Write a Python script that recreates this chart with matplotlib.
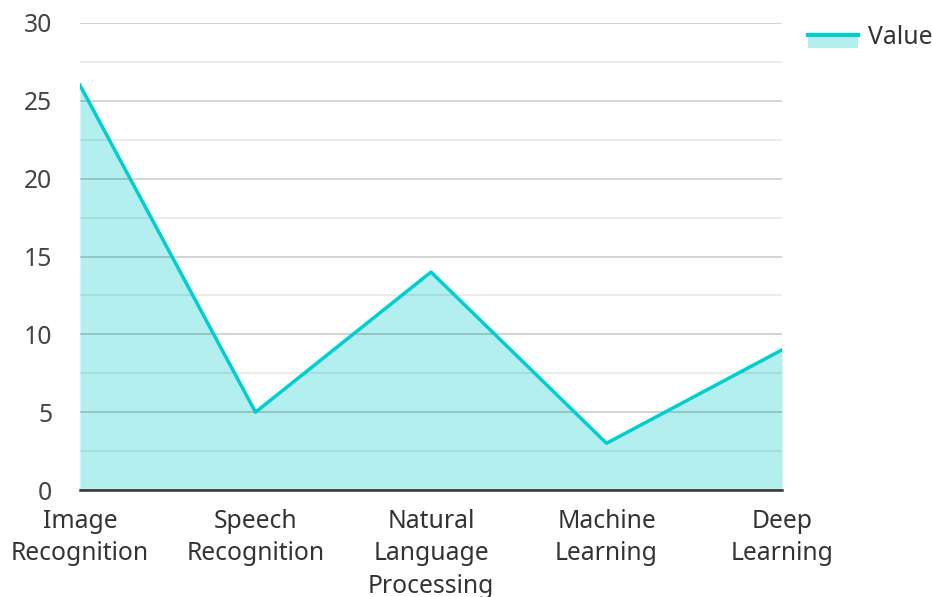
import matplotlib
matplotlib.use('Agg')
import matplotlib.pyplot as plt
from matplotlib.patches import Rectangle
from matplotlib.lines import Line2D
from matplotlib.legend_handler import HandlerBase
from matplotlib.ticker import MultipleLocator

plt.rcParams['font.family'] = ['Noto Sans', 'DejaVu Sans']

categories = ['Image\nRecognition', 'Speech\nRecognition', 'Natural\nLanguage\nProcessing',
              'Machine\nLearning', 'Deep\nLearning']
values = [26, 5, 14, 3, 9]

line_color = '#00CED1'
fill_color = '#B2EFEE'


class AreaHandler(HandlerBase):
    # line on top of a filled block, like the area legend swatch
    def create_artists(self, legend, orig_handle, xdescent, ydescent,
                       width, height, fontsize, trans):
        top = height * 0.5
        rect = Rectangle((-xdescent, -ydescent - height * 0.25), width, top + height * 0.25,
                         facecolor=fill_color, edgecolor='none', transform=trans)
        line = Line2D([-xdescent, -xdescent + width], [top, top],
                      color=line_color, linewidth=3, transform=trans)
        return [rect, line]


fig = plt.figure(figsize=(9.32, 5.97), dpi=100)
ax = fig.add_axes([80 / 932, 1 - 490 / 597, 702 / 932, 467 / 597])

x = list(range(len(values)))
ax.fill_between(x, values, 0, color=fill_color, linewidth=0, zorder=0.3)
area, = ax.plot(x, values, color=line_color, linewidth=2.5, zorder=2)

ax.set_xlim(0, len(values) - 1)
ax.set_ylim(0, 30)
ax.yaxis.set_major_locator(MultipleLocator(5))
ax.yaxis.set_minor_locator(MultipleLocator(2.5))
ax.grid(axis='y', which='major', color='black', alpha=0.2, linewidth=1.2)
ax.grid(axis='y', which='minor', color='black', alpha=0.09, linewidth=1.2)
ax.set_xticks(x)
ax.set_xticklabels(categories, fontsize=17.8, color='#333333', linespacing=1.39)
ax.tick_params(axis='both', which='both', length=0)
ax.tick_params(axis='y', labelsize=17.8, labelcolor='#444444', pad=20)
ax.tick_params(axis='x', pad=13.5)

for s in ['top', 'right', 'left']:
    ax.spines[s].set_visible(False)
ax.spines['bottom'].set_color('#333333')
ax.spines['bottom'].set_linewidth(1.8)
ax.spines['bottom'].set_zorder(3)

fig.legend([area], ['Value'], loc='upper right', bbox_to_anchor=(1.024, 0.996),
           frameon=False, fontsize=17.8, handler_map={area: AreaHandler()},
           handlelength=2.0, handletextpad=0.4, labelcolor='#333333',
           borderaxespad=0.5)

fig.savefig('out.png', dpi=100)
